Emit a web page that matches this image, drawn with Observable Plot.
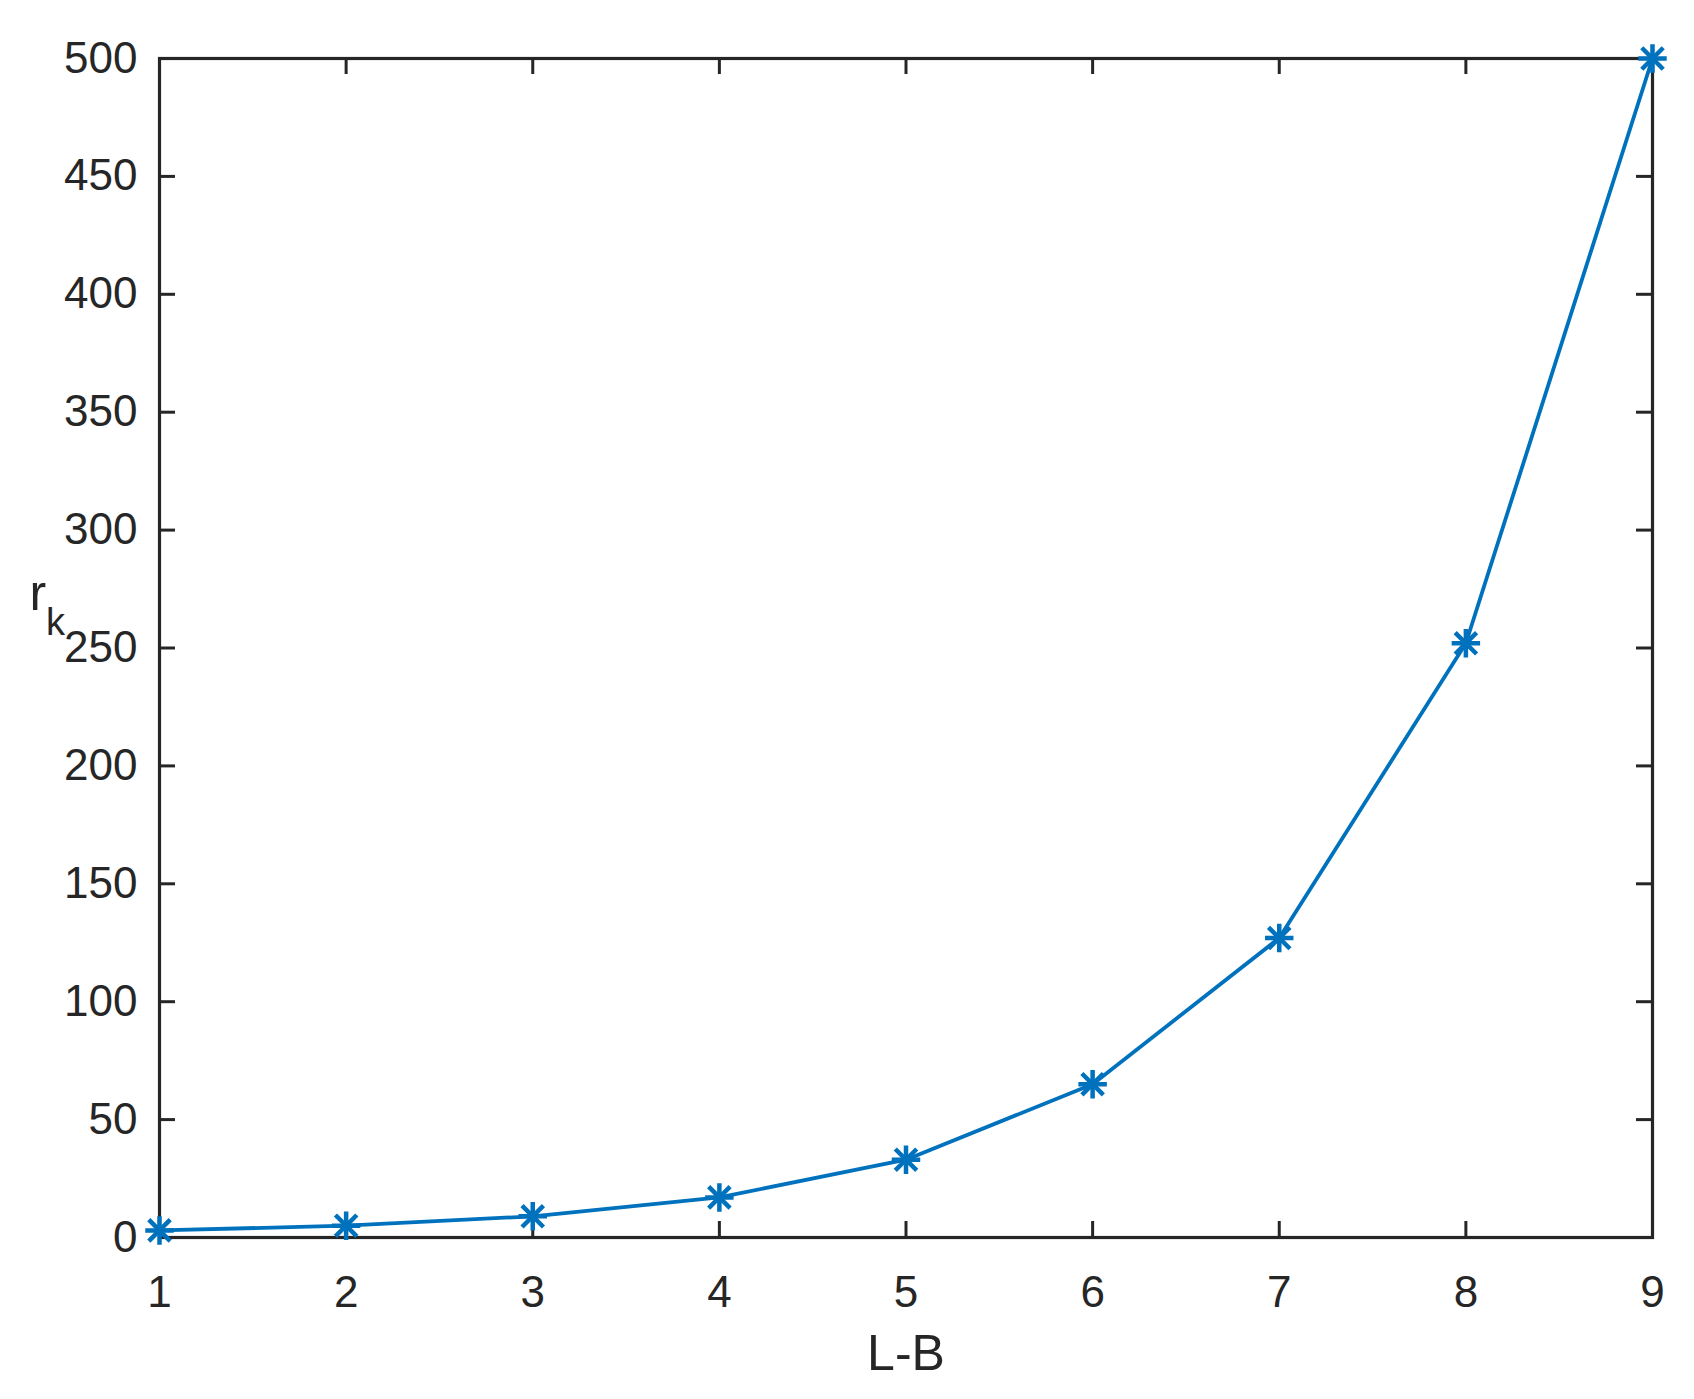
<!DOCTYPE html>
<html>
<head>
<meta charset="utf-8">
<script src="https://cdn.jsdelivr.net/npm/d3@7"></script>
<script src="https://cdn.jsdelivr.net/npm/@observablehq/plot@0.6"></script>
<style>
  html, body { margin: 0; padding: 0; background: #ffffff; }
  #chart svg { display: block; }
</style>
</head>
<body>
<div id="chart"></div>
<script>
// Data
const lb = [1, 2, 3, 4, 5, 6, 7, 8, 9];
const rk = [3, 5, 9, 17, 33, 65, 127, 252, 500];
const xTicks = [1, 2, 3, 4, 5, 6, 7, 8, 9];
const yTicks = [0, 50, 100, 150, 200, 250, 300, 350, 400, 450, 500];
const xLabel = "L-B";
const yLabelMain = "r";
const yLabelSub = "k";

const data = lb.map((x, i) => ({x, y: rk[i]}));

const W = 1694, H = 1399;
const mL = 159, mR = 42, mT = 58, mB = 162;
const fw = W - mL - mR, fh = H - mT - mB;
const tickLen = 16;
const axisColor = "#262626";
const lineColor = "#0072BD";
const font = "'Liberation Sans', Arial, Helvetica, sans-serif";

const chart = Plot.plot({
  width: W,
  height: H,
  marginLeft: mL,
  marginRight: mR,
  marginTop: mT,
  marginBottom: mB,
  style: {fontFamily: font, background: "#ffffff", color: axisColor},
  x: {domain: [1, 9], label: null},
  y: {domain: [0, 500], label: null},
  marks: [
    // inward ticks on all four sides
    Plot.ruleX(xTicks, {x: d => d, stroke: axisColor, strokeWidth: 3, insetTop: fh - tickLen}),
    Plot.ruleX(xTicks, {x: d => d, stroke: axisColor, strokeWidth: 3, insetBottom: fh - tickLen}),
    Plot.ruleY(yTicks, {y: d => d, stroke: axisColor, strokeWidth: 3, insetRight: fw - tickLen}),
    Plot.ruleY(yTicks, {y: d => d, stroke: axisColor, strokeWidth: 3, insetLeft: fw - tickLen}),
    Plot.axisX({ticks: xTicks, tickSize: 0, tickPadding: 38, fontSize: 44, tickFormat: d => String(d), fill: axisColor, label: null}),
    Plot.axisY({ticks: yTicks, tickSize: 0, tickPadding: 22, fontSize: 44, tickFormat: d => String(d), fill: axisColor, label: null}),
    Plot.frame({stroke: axisColor, strokeWidth: 3.2}),
    Plot.line(data, {x: "x", y: "y", stroke: lineColor, strokeWidth: 3.8}),
    Plot.dot(data, {x: "x", y: "y", symbol: "plus", r: 9.2, stroke: lineColor, strokeWidth: 4.5}),
    Plot.dot(data, {x: "x", y: "y", symbol: "times", r: 9.8, stroke: lineColor, strokeWidth: 4.5}),
    Plot.text([xLabel], {text: d => d, frameAnchor: "bottom", lineAnchor: "bottom", dy: 132, fontSize: 50, fill: axisColor}),
    Plot.text([yLabelMain], {text: d => d, frameAnchor: "left", textAnchor: "start", lineAnchor: "bottom", dx: -130, dy: -38.5, fontSize: 50, fill: axisColor}),
    Plot.text([yLabelSub], {text: d => d, frameAnchor: "left", textAnchor: "start", lineAnchor: "bottom", dx: -113.5, dy: -13.5, fontSize: 38, fill: axisColor})
  ]
});

document.getElementById("chart").appendChild(chart);
</script>
</body>
</html>
